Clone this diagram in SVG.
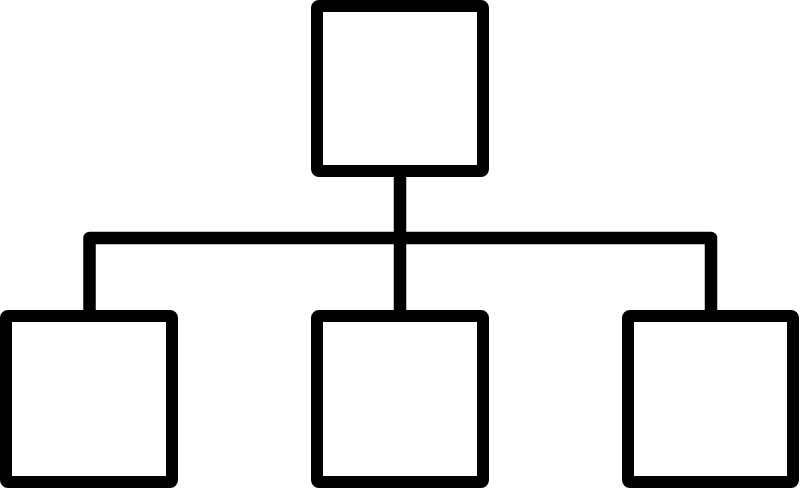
<svg xmlns="http://www.w3.org/2000/svg" width="800" height="489" viewBox="0 0 800 489">
<style>
.box{fill:#fff;stroke:#000;stroke-width:12;stroke-linejoin:round}
.wire{fill:none;stroke:#000;stroke-width:12.5;stroke-linejoin:round}
</style>
<rect width="800" height="489" fill="#fff"/>
<g id="connectors">
<path class="wire" d="M400 171V238"/>
<path class="wire" d="M89.5 316V238H711V316"/>
<path class="wire" d="M400 238V316"/>
</g>
<g id="top"><rect class="box" x="317" y="6" width="166" height="165" rx="2"/></g>
<g id="left"><rect class="box" x="6" y="316" width="166" height="166" rx="2"/></g>
<g id="middle"><rect class="box" x="317" y="316" width="166" height="166" rx="2"/></g>
<g id="right"><rect class="box" x="628" y="316" width="165" height="166" rx="2"/></g>
</svg>
